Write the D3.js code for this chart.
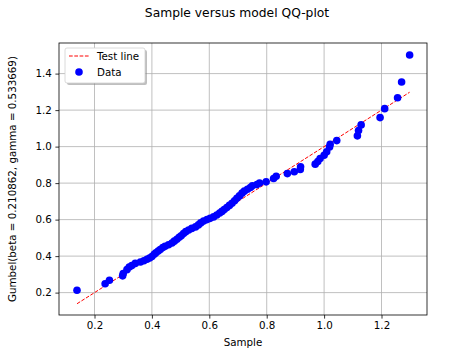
<!DOCTYPE html>
<html><head><meta charset="utf-8">
<script src="https://cdn.jsdelivr.net/npm/d3@7"></script>
<style>
html,body{margin:0;padding:0;background:#fff;}
text{font-family:"DejaVu Sans",sans-serif;}
</style></head>
<body>
<svg id="chart" width="474" height="355"></svg>
<script>
const sampleX = [0.139,0.237,0.252,0.298,0.300,0.313,0.321,0.330,0.342,0.360,0.372,0.383,0.392,0.400,0.408,0.414,0.422,0.429,0.438,0.446,0.458,0.470,0.478,0.487,0.495,0.502,0.510,0.518,0.528,0.539,0.552,0.562,0.570,0.580,0.592,0.603,0.615,0.626,0.636,0.644,0.652,0.661,0.670,0.679,0.688,0.696,0.705,0.714,0.722,0.733,0.743,0.750,0.766,0.775,0.798,0.824,0.833,0.872,0.896,0.917,0.918,0.969,0.978,0.986,1.000,1.009,1.019,1.021,1.044,1.116,1.120,1.129,1.195,1.211,1.256,1.270,1.298];
const modelY = [0.213,0.249,0.268,0.292,0.305,0.326,0.340,0.348,0.360,0.368,0.375,0.383,0.390,0.398,0.410,0.418,0.428,0.436,0.447,0.454,0.462,0.472,0.482,0.492,0.503,0.512,0.524,0.534,0.543,0.552,0.560,0.571,0.582,0.592,0.600,0.607,0.615,0.625,0.636,0.645,0.655,0.666,0.678,0.690,0.703,0.717,0.730,0.745,0.756,0.766,0.776,0.785,0.792,0.800,0.807,0.825,0.838,0.852,0.862,0.875,0.890,0.904,0.918,0.935,0.953,0.972,0.998,1.012,1.033,1.059,1.088,1.119,1.159,1.208,1.268,1.354,1.502];
const testLineX = [0.139, 1.298];
const testLineY = [0.139, 1.298];
const xTicks = [0.2,0.4,0.6,0.8,1.0,1.2];
const yTicks = [0.2,0.4,0.6,0.8,1.0,1.2,1.4];
const titleText = "Sample versus model QQ-plot";
const xLabel = "Sample";
const yLabel = "Gumbel(beta = 0.210862, gamma = 0.533669)";

const svg = d3.select("#chart");
const L = 59, R = 427, T = 43, B = 315;
const x = d3.scaleLinear().domain([0.0763, 1.3585]).range([L, R]);
const y = d3.scaleLinear().domain([0.0774, 1.5677]).range([B, T]);

// grid
svg.append("g").selectAll("line").data(xTicks).join("line")
  .attr("x1", d => x(d)).attr("x2", d => x(d)).attr("y1", T).attr("y2", B)
  .attr("stroke", "#b0b0b0").attr("stroke-width", 0.8);
svg.append("g").selectAll("line").data(yTicks).join("line")
  .attr("y1", d => y(d)).attr("y2", d => y(d)).attr("x1", L).attr("x2", R)
  .attr("stroke", "#b0b0b0").attr("stroke-width", 0.8);

// test line
svg.append("line")
  .attr("x1", x(testLineX[0])).attr("y1", y(testLineY[0]))
  .attr("x2", x(testLineX[1])).attr("y2", y(testLineY[1]))
  .attr("stroke", "red").attr("stroke-width", 1).attr("stroke-dasharray", "3.7,1.6");

// data points
svg.append("g").selectAll("circle").data(sampleX).join("circle")
  .attr("cx", d => x(d)).attr("cy", (d, i) => y(modelY[i])).attr("r", 3.8)
  .attr("fill", "blue");

// axes
const xAxis = d3.axisBottom(x).tickValues(xTicks).tickFormat(d3.format(".1f")).tickSize(3.6).tickPadding(3.5);
const gx = svg.append("g").attr("transform", `translate(0,${B})`).call(xAxis);
const yAxis = d3.axisLeft(y).tickValues(yTicks).tickFormat(d3.format(".1f")).tickSize(3.6).tickPadding(3.5);
const gy = svg.append("g").attr("transform", `translate(${L},0)`).call(yAxis);
[gx, gy].forEach(g => {
  g.select(".domain").remove();
  g.selectAll("text").attr("font-size", "10.3px").attr("font-family", "DejaVu Sans").attr("fill", "#000");
  g.selectAll("line").attr("stroke", "#000").attr("stroke-width", 0.8);
});

// frame
svg.append("rect").attr("x", L).attr("y", T).attr("width", R - L).attr("height", B - T)
  .attr("fill", "none").attr("stroke", "#000").attr("stroke-width", 0.8);

// title and labels
svg.append("text").attr("x", 237).attr("y", 17).attr("text-anchor", "middle")
  .attr("font-size", "12.3px").text(titleText);
svg.append("text").attr("x", (L + R) / 2).attr("y", 346).attr("text-anchor", "middle")
  .attr("font-size", "10.3px").text(xLabel);
svg.append("text").attr("transform", `translate(16,${(T + B) / 2}) rotate(-90)`)
  .attr("text-anchor", "middle").attr("font-size", "10.3px").text(yLabel);

// legend
const lg = svg.append("g");
lg.append("rect").attr("x", 67).attr("y", 50).attr("width", 80).attr("height", 35)
  .attr("rx", 2).attr("fill", "#808080").attr("opacity", 0.5);
lg.append("rect").attr("x", 65).attr("y", 48).attr("width", 80).attr("height", 35)
  .attr("rx", 2).attr("fill", "#fff").attr("stroke", "#d0d0d0").attr("stroke-width", 0.8);
lg.append("line").attr("x1", 69).attr("x2", 89).attr("y1", 56).attr("y2", 56)
  .attr("stroke", "red").attr("stroke-width", 1).attr("stroke-dasharray", "3.7,1.6");
lg.append("text").attr("x", 97).attr("y", 60).attr("font-size", "10.3px").text("Test line");
lg.append("circle").attr("cx", 79).attr("cy", 72).attr("r", 3.8).attr("fill", "blue");
lg.append("text").attr("x", 97).attr("y", 76).attr("font-size", "10.3px").text("Data");
</script>
</body></html>
